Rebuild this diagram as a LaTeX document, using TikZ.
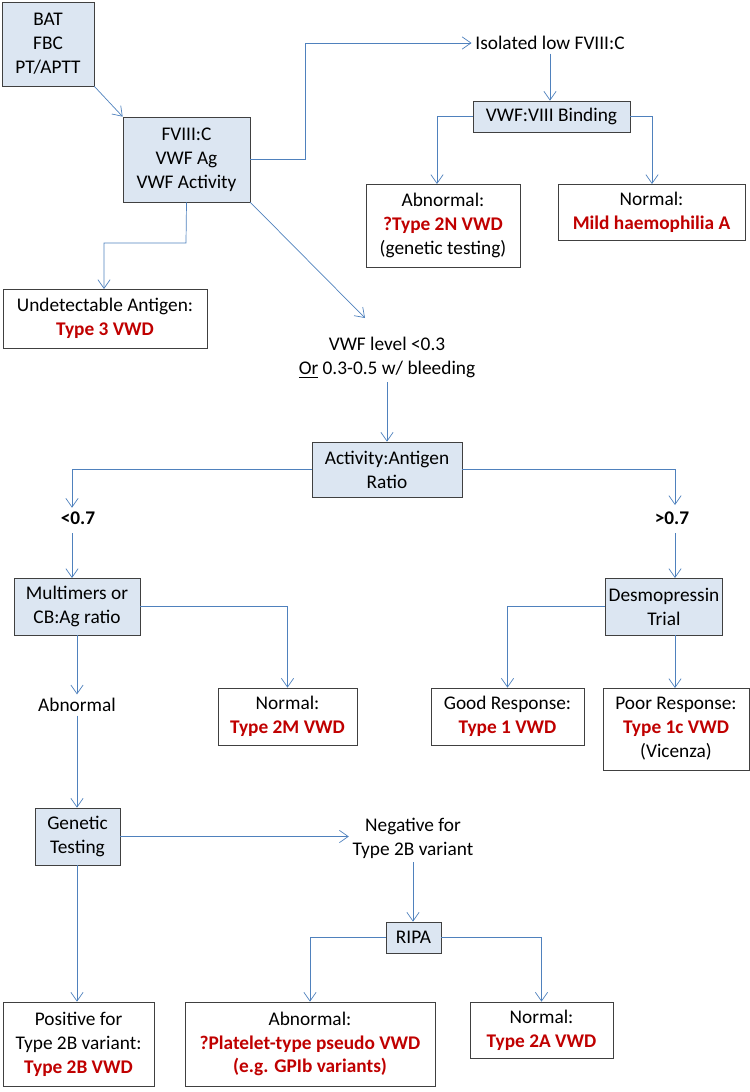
\documentclass[tikz,border=0pt]{standalone}
\usepackage{fontspec}
\setmainfont{Carlito}
\usetikzlibrary{arrows.meta}
\definecolor{boxfill}{HTML}{DCE6F2}
\definecolor{linkblue}{HTML}{4F81BD}
\definecolor{vwdred}{HTML}{C00000}
\newcommand{\res}[1]{\textcolor{vwdred}{\textbf{#1}}}
\tikzset{
  box/.style={draw=black!75, fill=boxfill, align=center, inner sep=2pt},
  outcome/.style={draw=black!75, fill=white, align=center, inner sep=2pt},
  plain/.style={align=center, inner sep=2pt},
  link/.style={draw=linkblue, -{Straight Barb[length=5pt,width=7pt]}},
}
\begin{document}
\begin{tikzpicture}[x=0.02cm, y=-0.02cm, font=\fontsize{11}{13.6}\selectfont]
    \useasboundingbox (0,0) rectangle (750,1092);

    % Erste Stufe
    \node[box, minimum width=1.84cm, minimum height=1.68cm] (bat) at (48,44) {BAT\\FBC\\PT/APTT};
    \node[box, minimum width=2.54cm, minimum height=1.7cm] (fviii) at (186.5,159.5) {FVIII:C\\VWF Ag\\VWF Activity};
    \node[outcome, minimum width=4.08cm, minimum height=1.18cm] (undet) at (105,318.5) {Undetectable Antigen:\\\res{Type 3 VWD}};

    % Isolierter FVIII
    \node[plain] (iso) at (550,43) {Isolated low FVIII:C};
    \node[box, minimum width=3.14cm, minimum height=0.62cm] (bind) at (551.5,116.5) {VWF:VIII Binding};
    \node[outcome, minimum width=3.08cm, minimum height=1.66cm] (ab2n) at (443,225.5) {Abnormal:\\\res{?Type 2N VWD}\\(genetic testing)};
    \node[outcome, minimum width=3.74cm, minimum height=1.12cm] (haem) at (651.5,212) {Normal:\\\res{Mild haemophilia A}};

    % VWF Spiegel
    \node[plain] (level) at (387,358) {VWF level <0.3\\\underline{Or} 0.3-0.5 w/ bleeding};
    \node[box, minimum width=3cm, minimum height=1.1cm] (ratio) at (387,469.5) {Activity:Antigen\\Ratio};
    \node[plain, font=\fontsize{11}{13.6}\selectfont\bfseries] (low) at (78,518) {<0.7};
    \node[plain, font=\fontsize{11}{13.6}\selectfont\bfseries] (high) at (672,518) {>0.7};

    % Linker Zweig
    \node[box, minimum width=2.52cm, minimum height=1.14cm] (multi) at (77,606.5) {Multimers or\\CB:Ag ratio};
    \node[outcome, minimum width=2.78cm, minimum height=1.14cm] (t2m) at (287.5,716.5) {Normal:\\\res{Type 2M VWD}};
    \node[plain] (abn) at (77,705) {Abnormal};
    \node[box, minimum width=1.7cm, minimum height=1.14cm] (gen) at (77.5,836.5) {Genetic\\Testing};
    \node[plain] (neg) at (413,838) {Negative for\\Type 2B variant};
    \node[box, minimum width=1.1cm, minimum height=0.62cm] (ripa) at (413.5,937.5) {RIPA};
    \node[outcome, minimum width=3.02cm, minimum height=1.68cm] (t2b) at (78.5,1044) {Positive for\\Type 2B variant:\\\res{Type 2B VWD}};
    \node[outcome, minimum width=5cm, minimum height=1.68cm] (plt) at (310,1044) {Abnormal:\\\res{?Platelet-type pseudo VWD}\\\res{(e.g. GPIb variants)}};
    \node[outcome, minimum width=2.86cm, minimum height=1.12cm] (t2a) at (541.5,1030) {Normal:\\\res{Type 2A VWD}};

    % Rechter Zweig
    \node[box, minimum width=2.24cm, minimum height=1.14cm] (ddavp) at (664,606.5) {Desmopressin\\Trial};
    \node[outcome, minimum width=3.06cm, minimum height=1.14cm] (t1) at (507.5,716.5) {Good Response:\\\res{Type 1 VWD}};
    \node[outcome, minimum width=2.92cm, minimum height=1.64cm] (t1c) at (676,729) {Poor Response:\\\res{Type 1c VWD}\\(Vicenza)};

    % Verbindungen
    \draw[link] (bat.south east) -- (fviii.north west);
    \draw[link] (fviii.east) -- (305,159.5) |- (iso.west);
    \draw[link] (iso.south) -- (bind.north -| iso.south);
    \draw[link] (bind.west) -| (437,184);
    \draw[link] (bind.east) -| (652,184);
    \draw[link] (fviii.south) -- (186,243) -| (104,289);
    \draw[link] (fviii.south east) -- (365,318);
    \draw[link] (level.south) -- (ratio.north);
    \draw[link] (ratio.west) -| (low.north -| 72,0);
    \draw[link] (ratio.east) -| (675,505);
    \draw[link] (72,533) -- (72,578);
    \draw[link] (675,533) -- (675,578);
    \draw[link] (multi.east) -| (t2m.north);
    \draw[link] (multi.south) -- (abn.north);
    \draw[link] (abn.south) -- (gen.north -| abn.south);
    \draw[link] (ddavp.west) -| (t1.north);
    \draw[link] (675,635) -- (675,688);
    \draw[link] (gen.east) -- (neg.west |- gen.east);
    \draw[link] (77,865) -- (t2b.north -| 77,0);
    \draw[link] (neg.south) -- (ripa.north -| neg.south);
    \draw[link] (ripa.west) -| (plt.north);
    \draw[link] (ripa.east) -| (t2a.north);
\end{tikzpicture}
\end{document}
